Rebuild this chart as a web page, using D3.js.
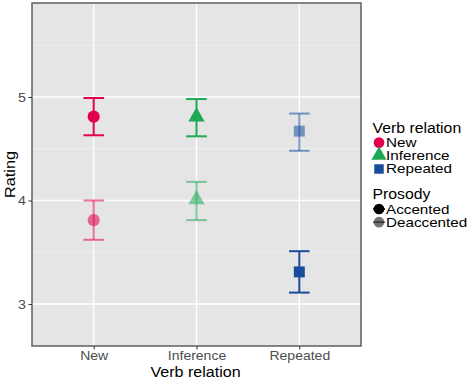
<!DOCTYPE html>
<html><head><meta charset="utf-8">
<script src="https://cdn.jsdelivr.net/npm/d3@7"></script>
<style>
html,body{margin:0;padding:0;background:#fff;}
svg{display:block;font-family:"Liberation Sans",Arial,sans-serif;}
</style></head>
<body><svg id="c" width="474" height="379"></svg>
<script>
const categories = ["New", "Inference", "Repeated"];
const prosodies = ["Accented", "Deaccented"];
// mean rating, lower CI, upper CI per verb relation
const accentedMean = [4.81, 4.80, 3.31];
const accentedLow  = [4.63, 4.62, 3.11];
const accentedHigh = [4.99, 4.98, 3.51];
const deaccentedMean = [3.81, 4.00, 4.67];
const deaccentedLow  = [3.62, 3.81, 4.48];
const deaccentedHigh = [4.00, 4.18, 4.84];
const yTicks = [3, 4, 5];
const yMinor = [3.5, 4.5, 5.5];
const colors = ["#E3004F", "#1DAA55", "#1A4C9E"];
const shapes = [d3.symbolCircle, d3.symbolTriangle, d3.symbolSquare];
const alphaByProsody = [1, 0.55];

const rows = [];
categories.forEach((c, i) => {
  rows.push({cat: c, ci: i, pi: 0, mean: accentedMean[i], lo: accentedLow[i], hi: accentedHigh[i]});
  rows.push({cat: c, ci: i, pi: 1, mean: deaccentedMean[i], lo: deaccentedLow[i], hi: deaccentedHigh[i]});
});

const svg = d3.select("#c");
const P = {l: 32, r: 361, t: 3, b: 346};
// ggplot discrete expansion 0.6 on each side
const xs = d3.scaleLinear().domain([0.4, 3.6]).range([P.l, P.r]);
const xpos = c => xs(categories.indexOf(c) + 1);
const y = d3.scaleLinear().domain([2.594, 5.908]).range([P.b, P.t]);
const capHalf = xs(1.1) - xs(1);

function stretch(sel, sx) {
  sel.each(function() {
    const t = d3.select(this);
    const tx = +t.attr("x") || 0, ty = +t.attr("y") || 0;
    t.attr("x", 0).attr("y", 0).attr("transform", `translate(${tx},${ty}) scale(${sx},1)`);
  });
}

// panel
svg.append("rect").attr("x", P.l).attr("y", P.t).attr("width", P.r - P.l).attr("height", P.b - P.t).attr("fill", "#E5E5E5");
const g = svg.append("g");
g.selectAll(".minor").data(yMinor).join("line")
  .attr("x1", P.l).attr("x2", P.r).attr("y1", d => y(d)).attr("y2", d => y(d))
  .attr("stroke", "#F4F4F4").attr("stroke-width", 0.7);
g.selectAll(".major").data(yTicks).join("line")
  .attr("x1", P.l).attr("x2", P.r).attr("y1", d => y(d)).attr("y2", d => y(d))
  .attr("stroke", "#FFFFFF").attr("stroke-width", 1.3);
g.selectAll(".vmajor").data(categories).join("line")
  .attr("x1", d => xpos(d)).attr("x2", d => xpos(d)).attr("y1", P.t).attr("y2", P.b)
  .attr("stroke", "#FFFFFF").attr("stroke-width", 1.3);

// error bars
const eb = svg.append("g");
rows.forEach(r => {
  const cx = xpos(r.cat), col = colors[r.ci], op = alphaByProsody[r.pi];
  const gg = eb.append("g").attr("stroke", col).attr("stroke-opacity", op).attr("stroke-width", 2).attr("fill", "none");
  gg.append("line").attr("x1", cx).attr("x2", cx).attr("y1", y(r.lo)).attr("y2", y(r.hi));
  gg.append("line").attr("x1", cx - capHalf).attr("x2", cx + capHalf).attr("y1", y(r.lo)).attr("y2", y(r.lo));
  gg.append("line").attr("x1", cx - capHalf).attr("x2", cx + capHalf).attr("y1", y(r.hi)).attr("y2", y(r.hi));
});
// points
const symSize = [115, 115, 120];
svg.append("g").selectAll("path").data(rows).join("path")
  .attr("d", r => d3.symbol().type(shapes[r.ci]).size(symSize[r.ci])())
  .attr("transform", r => `translate(${xpos(r.cat)},${y(r.mean) + (r.ci === 1 ? -1 : 0)})`)
  .attr("fill", r => colors[r.ci]).attr("fill-opacity", r => alphaByProsody[r.pi]);

// border
svg.append("rect").attr("x", P.l).attr("y", P.t).attr("width", P.r - P.l).attr("height", P.b - P.t)
  .attr("fill", "none").attr("stroke", "#555").attr("stroke-width", 1.4);

// axes
const yAxis = svg.append("g").attr("transform", `translate(${P.l},0)`)
  .call(d3.axisLeft(y).tickValues(yTicks).tickFormat(d3.format("d")).tickSize(3.5).tickPadding(2.5));
yAxis.select(".domain").remove();
yAxis.selectAll("line").attr("stroke", "#333").attr("stroke-width", 1);
yAxis.selectAll("text").attr("font-size", 13).attr("fill", "#4D4D4D").attr("font-family", "Liberation Sans, Arial, sans-serif");
stretch(yAxis.selectAll("text"), 1.1);

const xAxis = svg.append("g").attr("transform", `translate(0,${P.b})`)
  .call(d3.axisBottom(xs).tickValues([1, 2, 3]).tickFormat(d => categories[d - 1]).tickSize(3.5).tickPadding(1.5));
xAxis.select(".domain").remove();
xAxis.selectAll("line").attr("stroke", "#333").attr("stroke-width", 1);
xAxis.selectAll("text").attr("font-size", 12.5).attr("fill", "#4D4D4D").attr("font-family", "Liberation Sans, Arial, sans-serif");
stretch(xAxis.selectAll("text"), 1.12);

// axis titles
const xt = svg.append("text").attr("x", (P.l + P.r) / 2 - 1).attr("y", 376.5).attr("text-anchor", "middle")
  .attr("font-size", 14.5).attr("fill", "#000").text("Verb relation");
stretch(xt, 1.11);
svg.append("text").attr("transform", `translate(14.5,${(P.t + P.b) / 2}) rotate(-90) scale(1.05,1)`)
  .attr("text-anchor", "middle").attr("font-size", 15.5).attr("fill", "#000").text("Rating");

// legend
const L = svg.append("g");
const lt1 = L.append("text").attr("x", 372.5).attr("y", 133).attr("font-size", 15.5).text("Verb relation");
stretch(lt1, 1.02);
const legY = [147, 160.2, 173.4];
const legSym = [90, 100, 90];
categories.forEach((c, i) => {
  L.append("path").attr("d", d3.symbol().type(shapes[i]).size(legSym[i])())
    .attr("transform", `translate(379,${legY[i] - 4.4 + (i === 1 ? -0.5 : 0)})`).attr("fill", colors[i]);
  const t = L.append("text").attr("x", 386).attr("y", legY[i]).attr("font-size", 12).text(c);
  stretch(t, 1.27);
});
const lt2 = L.append("text").attr("x", 372.5).attr("y", 198.5).attr("font-size", 15.5).text("Prosody");
stretch(lt2, 1.02);
const legY2 = [213.5, 226.7];
prosodies.forEach((p, i) => {
  const cy = legY2[i] - 4.5;
  L.append("line").attr("x1", 373).attr("x2", 385).attr("y1", cy).attr("y2", cy)
    .attr("stroke", "#000").attr("stroke-opacity", alphaByProsody[i]).attr("stroke-width", 1.6);
  L.append("path").attr("d", d3.symbol().type(d3.symbolCircle).size(90)())
    .attr("transform", `translate(379,${cy})`).attr("fill", "#000").attr("fill-opacity", alphaByProsody[i]);
  const t = L.append("text").attr("x", 386).attr("y", legY2[i]).attr("font-size", 12).text(p);
  stretch(t, 1.27);
});
</script></body></html>
